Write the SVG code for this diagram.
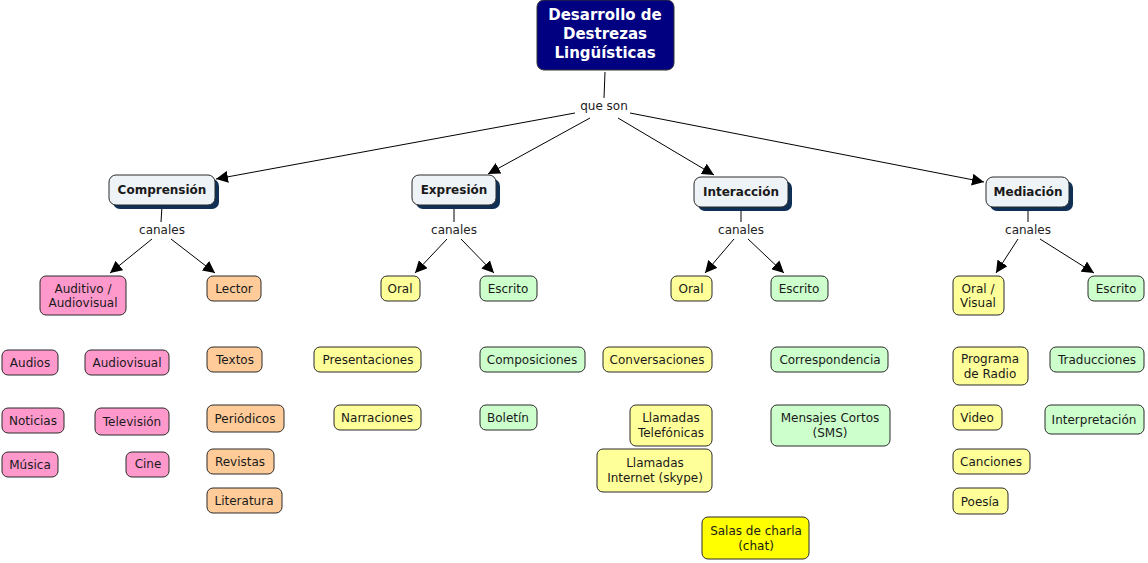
<svg xmlns="http://www.w3.org/2000/svg" width="1148" height="563" viewBox="0 0 1148 563">
<style>
text{font-family:"DejaVu Sans",Verdana,"Liberation Sans",sans-serif;font-size:12px;fill:#1a1a1a;text-anchor:middle}
.c rect{stroke:#2a2a2a;stroke-width:1}
.main rect{fill:#000080;stroke:#333}
.main text{fill:#fff;font-weight:bold;font-size:15px}
.l1 .sh{fill:#0f2f55;stroke:none}
.l1 .bx{fill:#eef3f7}
.l1 text{font-weight:bold}
.pink{fill:#ff99cc}
.peach{fill:#ffcc99}
.yel{fill:#ffff99}
.grn{fill:#ccffcc}
.ylw{fill:#ffff00}
.lk text{fill:#222}
#connectors line{stroke:#000;stroke-width:1;fill:none}
#connectors .a{marker-end:url(#ah)}
</style>
<defs>
<marker id="ah" markerUnits="userSpaceOnUse" markerWidth="12" markerHeight="12" viewBox="0 0 12 12" refX="12" refY="6" orient="auto">
<path d="M0,0 L12,6 L0,12 Z" fill="#000"/>
</marker>
</defs>
<rect width="1148" height="563" fill="#fff"/>

<g id="connectors">
<line x1="605" y1="72" x2="604" y2="98"/>
<line class="a" x1="575" y1="113" x2="216" y2="179"/>
<line class="a" x1="590" y1="118" x2="488" y2="174"/>
<line class="a" x1="618" y1="118" x2="714" y2="175"/>
<line class="a" x1="630" y1="113" x2="984" y2="182"/>
<line x1="162" y1="206" x2="161" y2="222"/>
<line x1="454" y1="206" x2="454" y2="222"/>
<line x1="741" y1="208" x2="741" y2="222"/>
<line x1="1028" y1="208" x2="1028" y2="222"/>
<line class="a" x1="152" y1="239" x2="110" y2="273"/>
<line class="a" x1="171" y1="239" x2="215" y2="273"/>
<line class="a" x1="447" y1="239" x2="415" y2="273"/>
<line class="a" x1="461" y1="239" x2="494" y2="273"/>
<line class="a" x1="734" y1="239" x2="705" y2="273"/>
<line class="a" x1="748" y1="239" x2="784" y2="273"/>
<line class="a" x1="1018" y1="239" x2="996" y2="273"/>
<line class="a" x1="1040" y1="239" x2="1094" y2="273"/>
</g>

<g id="main" class="c main">
<rect x="537" y="0" width="137" height="70" rx="7"/>
<text x="605" y="20">Desarrollo de</text>
<text x="605" y="39">Destrezas</text>
<text x="605" y="58">Lingüísticas</text>
</g>

<g id="lk-queson" class="lk"><text x="604" y="110">que son</text></g>
<g id="lk-canales1" class="lk"><text x="162" y="234">canales</text></g>
<g id="lk-canales2" class="lk"><text x="454" y="234">canales</text></g>
<g id="lk-canales3" class="lk"><text x="741" y="234">canales</text></g>
<g id="lk-canales4" class="lk"><text x="1028" y="234">canales</text></g>

<g id="comprension" class="c l1">
<rect class="sh" x="113" y="179" width="106" height="30" rx="7"/>
<rect class="bx" x="109" y="175" width="106" height="30" rx="7"/>
<text x="162" y="194">Comprensión</text>
</g>
<g id="expresion" class="c l1">
<rect class="sh" x="416" y="179" width="84" height="30" rx="7"/>
<rect class="bx" x="412" y="175" width="84" height="30" rx="7"/>
<text x="454" y="194">Expresión</text>
</g>
<g id="interaccion" class="c l1">
<rect class="sh" x="698" y="181" width="94" height="30" rx="7"/>
<rect class="bx" x="694" y="177" width="94" height="30" rx="7"/>
<text x="741" y="196">Interacción</text>
</g>
<g id="mediacion" class="c l1">
<rect class="sh" x="990" y="181" width="83" height="30" rx="7"/>
<rect class="bx" x="986" y="177" width="83" height="30" rx="7"/>
<text x="1028" y="196">Mediación</text>
</g>

<g id="auditivo" class="c"><rect class="pink" x="40" y="276" width="86" height="39" rx="6"/><text x="83" y="293">Auditivo /</text><text x="83" y="307">Audiovisual</text></g>
<g id="lector" class="c"><rect class="peach" x="207" y="276" width="54" height="25" rx="6"/><text x="234" y="293">Lector</text></g>
<g id="oral1" class="c"><rect class="yel" x="381" y="276" width="39" height="25" rx="6"/><text x="400" y="293">Oral</text></g>
<g id="escrito1" class="c"><rect class="grn" x="480" y="276" width="57" height="25" rx="6"/><text x="508" y="293">Escrito</text></g>
<g id="oral2" class="c"><rect class="yel" x="671" y="276" width="41" height="25" rx="6"/><text x="691" y="293">Oral</text></g>
<g id="escrito2" class="c"><rect class="grn" x="771" y="276" width="57" height="25" rx="6"/><text x="799" y="293">Escrito</text></g>
<g id="oralvisual" class="c"><rect class="yel" x="953" y="276" width="51" height="39" rx="6"/><text x="978" y="293">Oral /</text><text x="978" y="307">Visual</text></g>
<g id="escrito3" class="c"><rect class="grn" x="1088" y="276" width="56" height="25" rx="6"/><text x="1116" y="293">Escrito</text></g>

<g id="audios" class="c"><rect class="pink" x="2" y="350" width="56" height="25" rx="6"/><text x="30" y="367">Audios</text></g>
<g id="audiovisual" class="c"><rect class="pink" x="85" y="350" width="84" height="25" rx="6"/><text x="127" y="367">Audiovisual</text></g>
<g id="noticias" class="c"><rect class="pink" x="2" y="408" width="62" height="25" rx="6"/><text x="33" y="425">Noticias</text></g>
<g id="television" class="c"><rect class="pink" x="95" y="408" width="74" height="27" rx="6"/><text x="132" y="426">Televisión</text></g>
<g id="musica" class="c"><rect class="pink" x="2" y="452" width="56" height="25" rx="6"/><text x="30" y="469">Música</text></g>
<g id="cine" class="c"><rect class="pink" x="126" y="452" width="43" height="25" rx="6"/><text x="148" y="468">Cine</text></g>

<g id="textos" class="c"><rect class="peach" x="207" y="347" width="55" height="25" rx="6"/><text x="235" y="364">Textos</text></g>
<g id="periodicos" class="c"><rect class="peach" x="207" y="405" width="77" height="27" rx="6"/><text x="245" y="423">Periódicos</text></g>
<g id="revistas" class="c"><rect class="peach" x="207" y="449" width="67" height="25" rx="6"/><text x="240" y="466">Revistas</text></g>
<g id="literatura" class="c"><rect class="peach" x="207" y="488" width="75" height="25" rx="6"/><text x="244" y="505">Literatura</text></g>

<g id="presentaciones" class="c"><rect class="yel" x="314" y="347" width="107" height="25" rx="6"/><text x="368" y="364">Presentaciones</text></g>
<g id="narraciones" class="c"><rect class="yel" x="334" y="405" width="87" height="25" rx="6"/><text x="377" y="422">Narraciones</text></g>
<g id="composiciones" class="c"><rect class="grn" x="480" y="347" width="105" height="25" rx="6"/><text x="532" y="364">Composiciones</text></g>
<g id="boletin" class="c"><rect class="grn" x="480" y="405" width="57" height="25" rx="6"/><text x="508" y="422">Boletín</text></g>

<g id="conversaciones" class="c"><rect class="yel" x="603" y="347" width="109" height="25" rx="6"/><text x="657" y="364">Conversaciones</text></g>
<g id="telefonicas" class="c"><rect class="yel" x="630" y="405" width="82" height="41" rx="6"/><text x="671" y="422">Llamadas</text><text x="671" y="437">Telefónicas</text></g>
<g id="skype" class="c"><rect class="yel" x="597" y="449" width="115" height="43" rx="6"/><text x="655" y="467">Llamadas</text><text x="655" y="482">Internet (skype)</text></g>
<g id="chat" class="c"><rect class="ylw" x="702" y="517" width="107" height="42" rx="6"/><text x="756" y="535">Salas de charla</text><text x="756" y="550">(chat)</text></g>
<g id="correspondencia" class="c"><rect class="grn" x="771" y="347" width="117" height="25" rx="6"/><text x="830" y="364">Correspondencia</text></g>
<g id="sms" class="c"><rect class="grn" x="771" y="405" width="119" height="41" rx="6"/><text x="830" y="422">Mensajes Cortos</text><text x="830" y="437">(SMS)</text></g>

<g id="radio" class="c"><rect class="yel" x="953" y="347" width="75" height="38" rx="6"/><text x="990" y="363">Programa</text><text x="990" y="378">de Radio</text></g>
<g id="video" class="c"><rect class="yel" x="953" y="405" width="49" height="25" rx="6"/><text x="977" y="422">Video</text></g>
<g id="canciones" class="c"><rect class="yel" x="953" y="449" width="77" height="25" rx="6"/><text x="991" y="466">Canciones</text></g>
<g id="poesia" class="c"><rect class="yel" x="953" y="488" width="55" height="26" rx="6"/><text x="980" y="506">Poesía</text></g>
<g id="traducciones" class="c"><rect class="grn" x="1050" y="347" width="94" height="25" rx="6"/><text x="1097" y="364">Traducciones</text></g>
<g id="interpretacion" class="c"><rect class="grn" x="1045" y="405" width="99" height="29" rx="6"/><text x="1094" y="424">Interpretación</text></g>
</svg>
